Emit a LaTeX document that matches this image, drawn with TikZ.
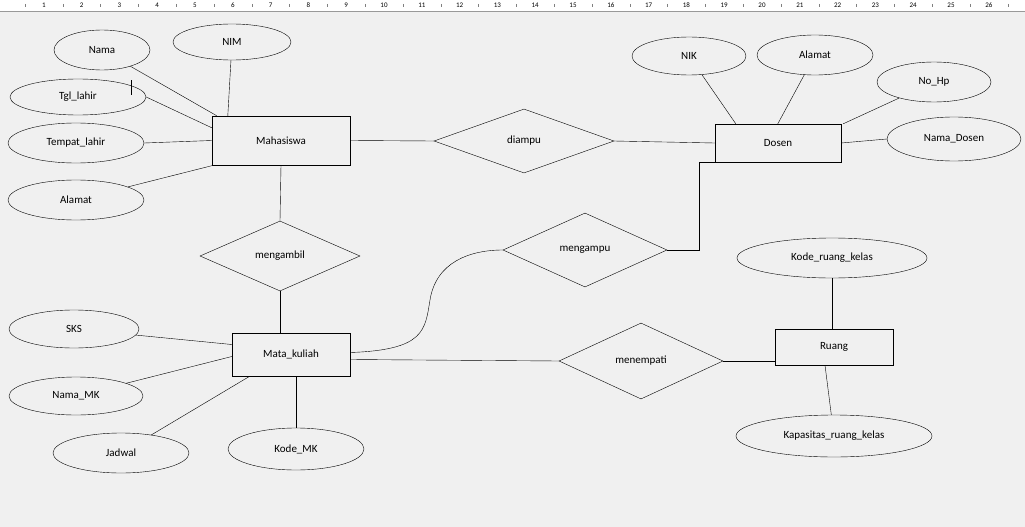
\documentclass[tikz,border=0pt]{standalone}
\usepackage{fontspec}
\setmainfont{Carlito}
\usetikzlibrary{shapes.geometric}
\begin{document}
\begin{tikzpicture}[x=1pt,y=-1pt,
 every node/.style={font=\fontsize{11}{13}\selectfont},
 att/.style={draw,ellipse,minimum width=#1,minimum height=38,inner sep=0},
 ent/.style={draw,rectangle,minimum height=#1,inner sep=0},
 rel/.style={draw,diamond,aspect=2.4,inner sep=0}]
\fill[black!6] (0,0) rectangle (1025,527);
\useasboundingbox (0,0) rectangle (1025,527);
\fill[white] (0,0) rectangle (1025,11);
\draw[black!40] (0,11) -- (1025,11);
\foreach \n in {1,...,26}{\node[font=\fontsize{7}{8}\selectfont,inner sep=0] (r\n) at (6+37.8*\n,5.5) {\n};}
\foreach \n in {0,...,26}{\draw[black!50] (6+37.8*\n+18.9,4) -- (6+37.8*\n+18.9,7);}
% entities
\node[ent=49,minimum width=138] (mhs) at (281,140.5) {Mahasiswa};
\node[ent=38,minimum width=126] (dos) at (778,143) {Dosen};
\node[ent=43,minimum width=118] (mk) at (291,354.5) {Mata\_kuliah};
\node[ent=36,minimum width=118] (ru) at (834,347) {Ruang};
% relations
\node[rel,minimum width=180,minimum height=64] (diampu) at (524,141) {diampu};
\node[rel,minimum width=160,minimum height=70] (ambil) at (280,256) {mengambil};
\node[rel,minimum width=164,minimum height=74] (ampu) at (585,250) {mengampu};
\node[rel,minimum width=164,minimum height=76] (tempati) at (641,361) {menempati};
% attributes
\node[att=96,minimum height=40] (nama) at (102,50) {Nama};
\node[att=118,minimum height=36] (nim) at (232,42) {NIM};
\node[att=136,minimum height=36] (tgl) at (78,97) {Tgl\_lahir};
\node[att=136,minimum height=40] (tmp) at (76,143) {Tempat\_lahir};
\node[att=136,minimum height=40] (alm) at (76,200) {Alamat};
\node[att=114] (nik) at (689,56) {NIK};
\node[att=116,minimum height=40] (alm2) at (815,55) {Alamat};
\node[att=114,minimum height=40] (hp) at (934,82) {No\_Hp};
\node[att=134,minimum height=44] (nd) at (954,139) {Nama\_Dosen};
\node[att=190,minimum height=40] (kode) at (832,258) {Kode\_ruang\_kelas};
\node[att=196,minimum height=42] (kap) at (834,436) {Kapasitas\_ruang\_kelas};
\node[att=130] (sks) at (74,329) {SKS};
\node[att=134] (nmk) at (76,396) {Nama\_MK};
\node[att=136,minimum height=40] (jad) at (121,453) {Jadwal};
\node[att=136,minimum height=42] (kmk) at (296,449) {Kode\_MK};
% connectors
\draw (nama) -- ([xshift=5]mhs.north west);
\draw (nim) -- ([xshift=16]mhs.north west);
\draw (tgl.east) -- ([yshift=-12]mhs.north west);
\draw (tmp.east) -- (mhs.west);
\draw (alm) -- ([xshift=2]mhs.south west);
\draw (mhs.east) -- (diampu.west);
\draw (diampu.east) -- (dos.west);
\draw (nik) -- ([xshift=21]dos.north west);
\draw (alm2) -- ([xshift=63]dos.north west);
\draw (hp) -- ([xshift=2]dos.north east);
\draw (nd.west) -- (dos.east);
\draw (mhs.south) -- (ambil.north);
\draw (ambil.south) -- (ambil.south |- mk.north);
\draw (ampu.east) -- ++(32,0) |- (dos.south west);
\draw ([yshift=2]mk.east) .. controls (425,350) and (425,330) .. (430,300)
      .. controls (436,262) and (470,250) .. (ampu.west);
\draw ([yshift=-5]mk.east) -- (tempati.west);
\draw (tempati.east) -- (tempati.east -| ru.west);
\draw (kode) -- ([xshift=-2]ru.north);
\draw (kap) -- ([xshift=-9]ru.south);
\draw (sks) -- ([yshift=10]mk.west);
\draw (nmk) -- ([yshift=-2]mk.west);
\draw (jad) -- ([xshift=18]mk.south west);
\draw (kmk) -- ([xshift=5]mk.south);
\draw (131,80) -- (131,95);
\end{tikzpicture}
\end{document}
